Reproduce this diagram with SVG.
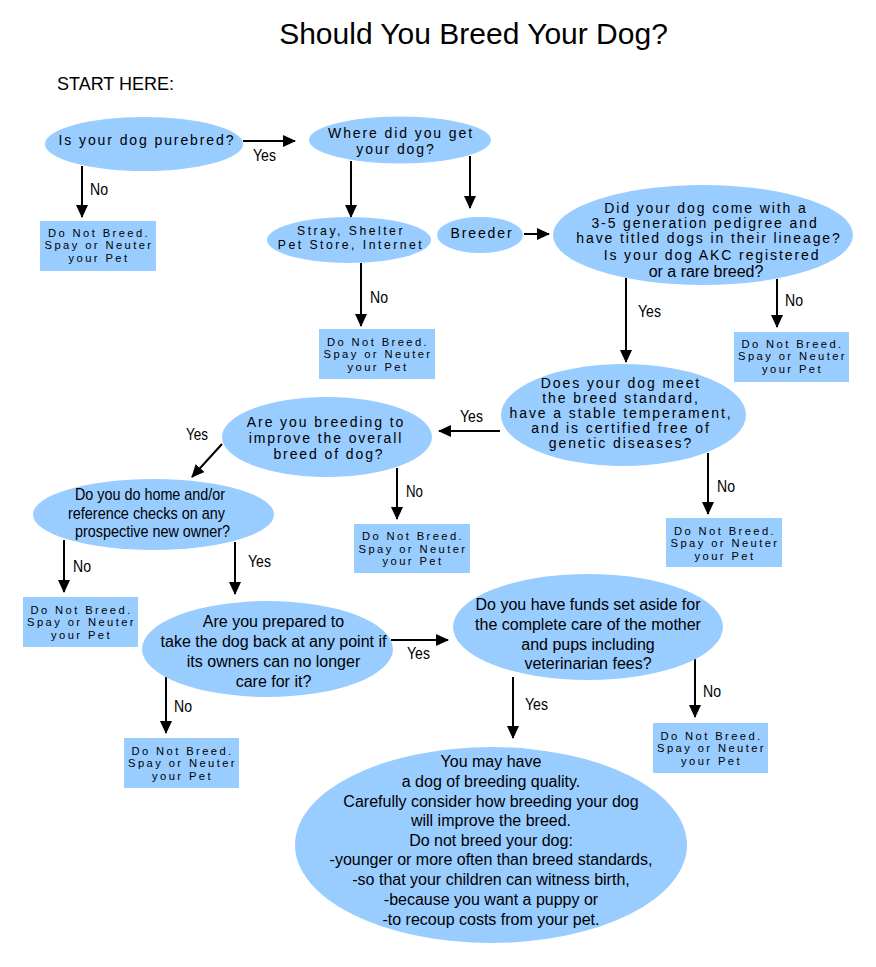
<svg xmlns="http://www.w3.org/2000/svg" width="876" height="967" viewBox="0 0 876 967">
<style>
text{font-family:"Liberation Sans",Arial,sans-serif;fill:#000}
.n{fill:#99ccff}
.w{font-size:14px;letter-spacing:1.9px;text-anchor:middle}
.s{font-size:12.2px;letter-spacing:2.5px;text-anchor:middle}
.b{font-size:11.2px;letter-spacing:2.4px;text-anchor:middle}
.t{font-size:16px;text-anchor:middle}
.h{font-size:17px;text-anchor:middle}
.l{font-size:17px}
#connectors line{stroke:#000;stroke-width:2;marker-end:url(#ah)}
</style>
<defs>
<marker id="ah" markerUnits="userSpaceOnUse" markerWidth="13" markerHeight="12" refX="12" refY="6" orient="auto">
<path d="M0,0 L13,6 L0,12 z" fill="#000"/>
</marker>
</defs>
<rect width="876" height="967" fill="#fff"/>
<text x="473.5" y="44" style="font-size:30px;text-anchor:middle">Should You Breed Your Dog?</text>
<text x="57" y="90" style="font-size:18px">START HERE:</text>

<g id="connectors">
<line x1="243" y1="141" x2="295" y2="141"/>
<line x1="82" y1="166" x2="82" y2="217"/>
<line x1="351" y1="161" x2="351" y2="217"/>
<line x1="470" y1="156" x2="470" y2="208"/>
<line x1="361" y1="263" x2="361" y2="326"/>
<line x1="524" y1="234" x2="549" y2="234"/>
<line x1="626" y1="278" x2="626" y2="362"/>
<line x1="777" y1="279" x2="777" y2="327"/>
<line x1="500" y1="431" x2="439" y2="431"/>
<line x1="708" y1="453" x2="708" y2="514"/>
<line x1="222" y1="444" x2="192" y2="477"/>
<line x1="397" y1="468" x2="397" y2="519"/>
<line x1="64" y1="540" x2="64" y2="592"/>
<line x1="235" y1="542" x2="235" y2="594"/>
<line x1="391" y1="640" x2="448" y2="640"/>
<line x1="166" y1="677" x2="166" y2="733"/>
<line x1="513" y1="677" x2="513" y2="738"/>
<line x1="695" y1="659" x2="695" y2="717"/>
<text class="l" x="253" y="161" textLength="23" lengthAdjust="spacingAndGlyphs">Yes</text>
<text class="l" x="90" y="195" textLength="18" lengthAdjust="spacingAndGlyphs">No</text>
<text class="l" x="370" y="303" textLength="18" lengthAdjust="spacingAndGlyphs">No</text>
<text class="l" x="638" y="317" textLength="23" lengthAdjust="spacingAndGlyphs">Yes</text>
<text class="l" x="785" y="306" textLength="18" lengthAdjust="spacingAndGlyphs">No</text>
<text class="l" x="460" y="422" textLength="23" lengthAdjust="spacingAndGlyphs">Yes</text>
<text class="l" x="717" y="492" textLength="18" lengthAdjust="spacingAndGlyphs">No</text>
<text class="l" x="186" y="440" textLength="22" lengthAdjust="spacingAndGlyphs">Yes</text>
<text class="l" x="406" y="497" textLength="17" lengthAdjust="spacingAndGlyphs">No</text>
<text class="l" x="73" y="572" textLength="18" lengthAdjust="spacingAndGlyphs">No</text>
<text class="l" x="248" y="567" textLength="23" lengthAdjust="spacingAndGlyphs">Yes</text>
<text class="l" x="407" y="659" textLength="23" lengthAdjust="spacingAndGlyphs">Yes</text>
<text class="l" x="174" y="712" textLength="18" lengthAdjust="spacingAndGlyphs">No</text>
<text class="l" x="525" y="710" textLength="23" lengthAdjust="spacingAndGlyphs">Yes</text>
<text class="l" x="703" y="697" textLength="18" lengthAdjust="spacingAndGlyphs">No</text>
</g>

<g id="purebred">
<ellipse class="n" cx="144" cy="144" rx="99" ry="27"/>
<text class="w" x="147" y="145">Is your dog purebred?</text>
</g>
<g id="where">
<ellipse class="n" cx="400" cy="140" rx="91" ry="23.5"/>
<text class="w" x="401" y="138">Where did you get</text>
<text class="w" x="396" y="154">your dog?</text>
</g>
<g id="stray">
<ellipse class="n" cx="349" cy="240" rx="82" ry="23"/>
<text class="s" x="351" y="235">Stray, Shelter</text>
<text class="s" x="351" y="248.8">Pet Store, Internet</text>
</g>
<g id="breeder">
<ellipse class="n" cx="480" cy="235" rx="43" ry="18"/>
<text class="w" x="482" y="238">Breeder</text>
</g>
<g id="pedigree">
<ellipse class="n" cx="703" cy="235" rx="150" ry="50"/>
<text class="w" x="706" y="213">Did your dog come with a</text>
<text class="w" x="705" y="228">3-5 generation pedigree and</text>
<text class="w" x="709" y="243">have titled dogs in their lineage?</text>
<text class="w" x="712" y="259.5">Is your dog AKC registered</text>
<text class="t" x="706" y="277">or a rare breed?</text>
</g>
<g id="standard">
<ellipse class="n" cx="623.5" cy="415" rx="122.5" ry="51"/>
<text class="w" x="621" y="388">Does your dog meet</text>
<text class="w" x="621" y="403">the breed standard,</text>
<text class="w" x="621" y="418">have a stable temperament,</text>
<text class="w" x="621" y="433">and is certified free of</text>
<text class="w" x="621" y="448">genetic diseases?</text>
</g>
<g id="improve">
<ellipse class="n" cx="327" cy="437" rx="105" ry="40"/>
<text class="w" x="326" y="427">Are you breeding to</text>
<text class="w" x="326" y="443">improve the overall</text>
<text class="w" x="329" y="459">breed of dog?</text>
</g>
<g id="checks">
<ellipse class="n" cx="153.5" cy="514.5" rx="120.5" ry="35.5"/>
<text class="h" x="150" y="500" textLength="150" lengthAdjust="spacingAndGlyphs">Do you do home and/or</text>
<text class="h" x="146.5" y="518.5" textLength="157" lengthAdjust="spacingAndGlyphs">reference checks on any</text>
<text class="h" x="152.5" y="537" textLength="155" lengthAdjust="spacingAndGlyphs">prospective new owner?</text>
</g>
<g id="takeback">
<ellipse class="n" cx="267.5" cy="649" rx="125.5" ry="48"/>
<text class="t" x="273.5" y="627">Are you prepared to</text>
<text class="t" x="273.5" y="647">take the dog back at any point if</text>
<text class="t" x="273.5" y="667">its owners can no longer</text>
<text class="t" x="273.5" y="687">care for it?</text>
</g>
<g id="funds">
<ellipse class="n" cx="588" cy="627" rx="135" ry="53"/>
<text class="t" x="588" y="610">Do you have funds set aside for</text>
<text class="t" x="588" y="630">the complete care of the mother</text>
<text class="t" x="588" y="650">and pups including</text>
<text class="t" x="588" y="669">veterinarian fees?</text>
</g>
<g id="quality">
<ellipse class="n" cx="491" cy="845" rx="196" ry="98"/>
<text class="t" x="491" y="767">You may have</text>
<text class="t" x="491" y="787">a dog of breeding quality.</text>
<text class="t" x="491" y="807">Carefully consider how breeding your dog</text>
<text class="t" x="491" y="826">will improve the breed.</text>
<text class="t" x="491" y="846">Do not breed your dog:</text>
<text class="t" x="491" y="865">-younger or more often than breed standards,</text>
<text class="t" x="491" y="885">-so that your children can witness birth,</text>
<text class="t" x="491" y="905">-because you want a puppy or</text>
<text class="t" x="491" y="925">-to recoup costs from your pet.</text>
</g>

<g id="no1">
<rect class="n" x="40" y="221" width="116" height="50"/>
<text class="b" x="99" y="236.5">Do Not Breed.</text>
<text class="b" x="99" y="249">Spay or Neuter</text>
<text class="b" x="99" y="261.5">your Pet</text>
</g>
<g id="no2">
<rect class="n" x="319" y="329" width="116" height="50"/>
<text class="b" x="378" y="345.5">Do Not Breed.</text>
<text class="b" x="378" y="358">Spay or Neuter</text>
<text class="b" x="378" y="370.5">your Pet</text>
</g>
<g id="no3">
<rect class="n" x="734" y="332" width="115" height="50"/>
<text class="b" x="792.5" y="347.5">Do Not Breed.</text>
<text class="b" x="792.5" y="360">Spay or Neuter</text>
<text class="b" x="792.5" y="372.5">your Pet</text>
</g>
<g id="no4">
<rect class="n" x="666" y="518" width="116" height="49"/>
<text class="b" x="725" y="534.5">Do Not Breed.</text>
<text class="b" x="725" y="547">Spay or Neuter</text>
<text class="b" x="725" y="559.5">your Pet</text>
</g>
<g id="no5">
<rect class="n" x="354" y="524" width="116" height="49"/>
<text class="b" x="413" y="540">Do Not Breed.</text>
<text class="b" x="413" y="552.5">Spay or Neuter</text>
<text class="b" x="413" y="565">your Pet</text>
</g>
<g id="no6">
<rect class="n" x="23" y="597" width="115" height="50"/>
<text class="b" x="81.5" y="613.5">Do Not Breed.</text>
<text class="b" x="81.5" y="626">Spay or Neuter</text>
<text class="b" x="81.5" y="638.5">your Pet</text>
</g>
<g id="no7">
<rect class="n" x="124" y="738" width="115" height="50"/>
<text class="b" x="182.5" y="754.5">Do Not Breed.</text>
<text class="b" x="182.5" y="767">Spay or Neuter</text>
<text class="b" x="182.5" y="779.5">your Pet</text>
</g>
<g id="no8">
<rect class="n" x="653" y="723" width="115" height="50"/>
<text class="b" x="711.5" y="739.5">Do Not Breed.</text>
<text class="b" x="711.5" y="752">Spay or Neuter</text>
<text class="b" x="711.5" y="764.5">your Pet</text>
</g>
</svg>
